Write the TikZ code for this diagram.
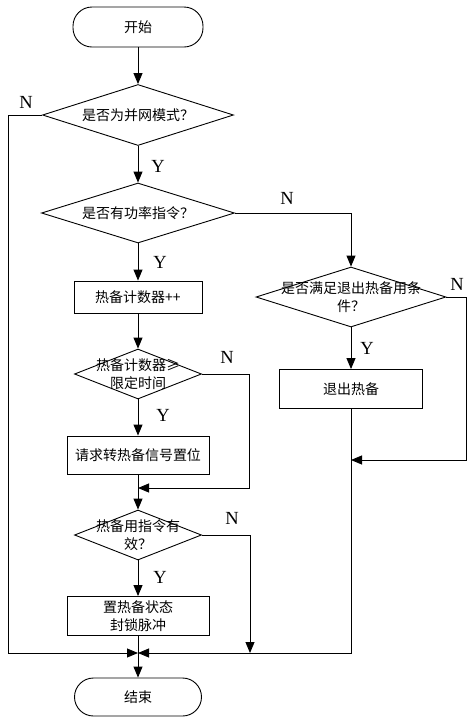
\documentclass[tikz,border=0pt]{standalone}
\usepackage{fontspec}
\setmainfont{Liberation Serif}
\newfontfamily\cjk{Noto Sans CJK SC}
\usetikzlibrary{shapes.geometric,arrows.meta}

\tikzset{
  txt/.style={font=\cjk\fontsize{14pt}{18pt}\selectfont, align=center, inner sep=0pt},
  box/.style={draw, rectangle, line width=.9pt, txt},
  term/.style={box, rounded corners=19pt},
  test/.style={draw, diamond, line width=.9pt, inner sep=0pt},
  yn/.style={font=\fontsize{18.5pt}{18.5pt}\selectfont, inner sep=0pt},
  line/.style={line width=.9pt},
  arr/.style={line, -{Triangle[length=11pt,width=9pt]}},
}

\begin{document}
\begin{tikzpicture}[x=1pt,y=-1pt]
\useasboundingbox (0,0) rectangle (474,724);

% colonna sinistra
\node[term, minimum width=130pt, minimum height=40pt] (start) at (138,27) {开始};
\node[test, minimum width=191pt, minimum height=61pt, label={[txt]center:是否为并网模式？}] (isgrid) at (138,115) {};
\node[test, minimum width=193pt, minimum height=60pt, label={[txt]center:是否有功率指令？}] (haspower) at (138,213) {};
\node[box, minimum width=128pt, minimum height=32pt] (counter) at (138,297) {热备计数器++};
\node[test, minimum width=127pt, minimum height=50pt, label={[txt]center:{热备计数器≥\\限定时间}}] (timeout) at (138,374) {};
\node[box, minimum width=142pt, minimum height=38pt] (request) at (138,455) {请求转热备信号置位};
\node[test, minimum width=127pt, minimum height=50pt, label={[txt]center:{热备用指令有\\效？}}] (hotvalid) at (138,535) {};
\node[box, minimum width=142pt, minimum height=39pt] (sethot) at (138,616) {置热备状态\\封锁脉冲};
\node[term, minimum width=127pt, minimum height=38pt] (stop) at (138,697) {结束};

% colonna destra
\node[test, minimum width=190pt, minimum height=60pt, label={[txt]center:{是否满足退出热备用条\\件？}}] (exitcond) at (351,297) {};
\node[box, minimum width=143pt, minimum height=39pt] (exithot) at (351,389) {退出热备};

% punti di giunzione
\coordinate (join) at (138,653);
\coordinate (merge) at (138,488);
\coordinate (back) at (351,460);
\coordinate (lw) at (8,653);
\coordinate (rdrop) at (250,653);

% frecce principali
\draw[arr] (start) -- (isgrid);
\draw[arr] (isgrid) -- (haspower);
\draw[arr] (haspower) -- (counter);
\draw[arr] (counter) -- (timeout);
\draw[arr] (timeout) -- (request);
\draw[arr] (request) -- (hotvalid);
\draw[arr] (hotvalid) -- (sethot);
\draw[arr] (sethot) -- (stop);
\draw[arr] (exitcond) -- (exithot);

% rami N
\draw[arr] (isgrid.west) -| (lw) -- (join);
\draw[arr] (haspower.east) -| (exitcond.north);
\draw[arr] (exitcond.east) -- ++(20,0) |- (back);
\draw[arr] (exithot.south) |- (join);
\draw[arr] (timeout.east) -- ++(47,0) |- (merge);
\draw[arr] (hotvalid.east) -| (rdrop);

% etichette
\node[yn] (n1) at (26,102) {N};
\node[yn] (y1) at (158,166) {Y};
\node[yn] (n2) at (287,198) {N};
\node[yn] (y2) at (160,262) {Y};
\node[yn] (n3) at (457,284) {N};
\node[yn] (y3) at (367,348) {Y};
\node[yn] (n4) at (227,357) {N};
\node[yn] (y4) at (163,415) {Y};
\node[yn] (n5) at (232,518) {N};
\node[yn] (y5) at (160,577) {Y};

\end{tikzpicture}
\end{document}
